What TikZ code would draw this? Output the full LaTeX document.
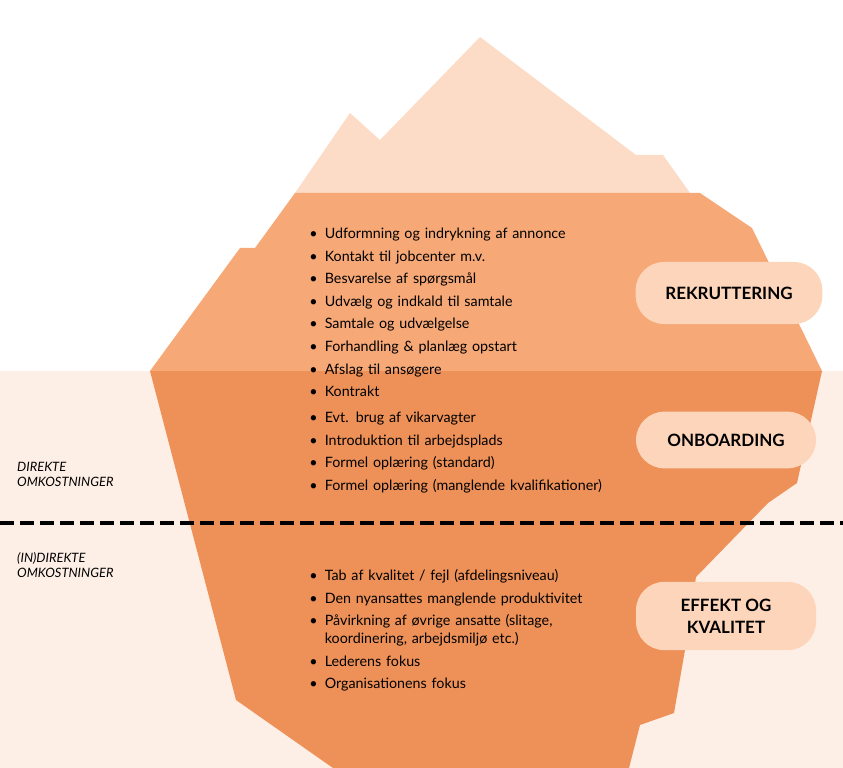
\documentclass[tikz,border=0pt]{standalone}
\usepackage{fontspec}
\setmainfont{Lato}
\usetikzlibrary{positioning}
\definecolor{sea}{HTML}{FDEEE6}
\definecolor{peak}{HTML}{FDDCC7}
\definecolor{mid}{HTML}{F7A877}
\definecolor{deep}{HTML}{EE9159}
\definecolor{pill}{HTML}{FDD5BA}
\newcommand{\bulletlist}[1]{\setlength{\leftmargini}{15pt}\begin{itemize}\setlength{\itemsep}{0pt}\setlength{\parsep}{0pt}\setlength{\topsep}{0pt}\setlength{\labelsep}{6pt}#1\end{itemize}}

\begin{document}
\begin{tikzpicture}[x=0.03cm,y=-0.03cm]
\tikzset{
  pillbox/.style={fill=pill, rounded corners=0.85cm, font=\fontsize{14.5}{17}\selectfont\bfseries, align=center, inner sep=0pt},
  items/.style={anchor=north west, text width=9.4cm, font=\fontsize{12.2}{15.3}\selectfont, inner sep=0pt},
  sidelabel/.style={anchor=north west, align=left, font=\fontsize{11}{13}\selectfont\itshape, inner sep=0pt}
}
\useasboundingbox (0,0) rectangle (843,768);
% water
\fill[sea] (0,371) rectangle (843,768);
% iceberg layers
\fill[peak] (295,193) -- (350,113) -- (380,140) -- (480,37) -- (636,155) -- (663,155) -- (690,193) -- cycle;
\fill[mid] (295,193) -- (690,193) -- (700,193) -- (752,228) -- (822,371) -- (150,371) -- (240,248) -- (255,248) -- cycle;
\fill[deep] (150,371) -- (822,371) -- (797,483) -- (768,503) -- (696,577) -- (685,650) -- (674,713) -- (640,725) -- (629,768) -- (333,768) -- (236,700) -- cycle;
% divider
\draw[line width=1.2mm, dash pattern=on 0.42cm off 0.18cm] (0,523) -- (843,523);

% lists
\node[items] (rekList) at (307,211) {\bulletlist{
  \item Udformning og indrykning af annonce
  \item Kontakt til jobcenter m.v.
  \item Besvarelse af spørgsmål
  \item Udvælg og indkald til samtale
  \item Samtale og udvælgelse
  \item Forhandling \& planlæg opstart
  \item Afslag til ansøgere
  \item Kontrakt}};
\node[items] (onbList) at (307,395) {\bulletlist{
  \item Evt. brug af vikarvagter
  \item Introduktion til arbejdsplads
  \item Formel oplæring (standard)
  \item Formel oplæring (manglende kvalifikationer)}};
\node[items] (effList) at (307,553) {\bulletlist{
  \item Tab af kvalitet / fejl (afdelingsniveau)
  \item Den nyansattes manglende produktivitet
  \item Påvirkning af øvrige ansatte (slitage, koordinering, arbejdsmiljø etc.)
  \item Lederens fokus
  \item Organisationens fokus}};

% labels
\node[pillbox, minimum width=5.6cm, minimum height=1.86cm] (rek) at (729,293) {REKRUTTERING};
\node[pillbox, minimum width=5.4cm, minimum height=1.7cm] (onb) at (726,440) {ONBOARDING};
\node[pillbox, minimum width=5.4cm, minimum height=2.05cm] (eff) at (726,616) {EFFEKT OG\\[2pt]KVALITET};

\node[sidelabel] (direkte) at (17,462) {DIREKTE\\OMKOSTNINGER};
\node[sidelabel] (indirekte) at (17,552) {(IN)DIREKTE\\OMKOSTNINGER};
\end{tikzpicture}
\end{document}
